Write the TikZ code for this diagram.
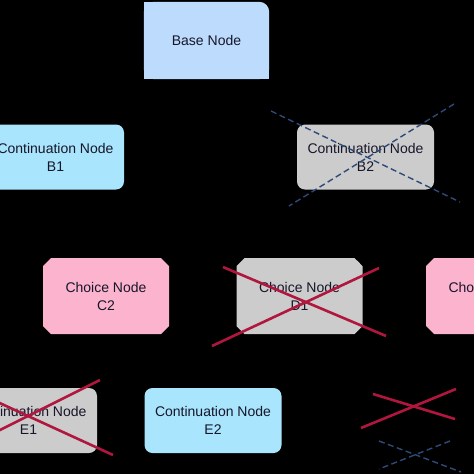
\documentclass[tikz,border=0pt]{standalone}
\usepackage{fontspec}
\setmainfont{Liberation Sans}
\usepackage{xcolor}
\usetikzlibrary{shapes.misc}
\definecolor{baseblue}{HTML}{BDDCFD}
\definecolor{contcyan}{HTML}{A9E5FC}
\definecolor{deadgray}{HTML}{CCCCCC}
\definecolor{choicepink}{HTML}{FCB3CE}
\definecolor{inkcol}{HTML}{16162A}
\definecolor{crossred}{HTML}{B0163E}
\definecolor{crossblue}{HTML}{2E4A78}
\pgfdeclarelayer{bg}
\pgfsetlayers{bg,main}

\begin{document}
\begin{tikzpicture}[x=1pt, y=-1pt,
    nodetext/.style={font=\fontsize{14}{18}\selectfont, text=inkcol, align=center, inner sep=0pt},
    contnode/.style={nodetext, rectangle, rounded corners=8pt, minimum width=137pt, minimum height=65pt},
    choicenode/.style={nodetext, chamfered rectangle, chamfered rectangle xsep=4pt,
        chamfered rectangle ysep=4pt, minimum width=126pt, minimum height=76pt},
    redcross/.style={crossred, line width=2.6pt},
    bluecross/.style={crossblue, line width=1.4pt, dash pattern=on 6pt off 3.5pt}]

\clip (0,0) rectangle (474,474);

% nodes
\node[nodetext, minimum width=125pt, minimum height=77pt] (base) at (206.5,40.5) {Base Node};

\node[contnode, fill=contcyan] (b1) at (55.5,157) {Continuation Node\\B1};
\node[contnode, fill=deadgray] (b2) at (365.5,157) {Continuation Node\\B2};

\node[choicenode, fill=choicepink] (c2) at (106,296) {Choice Node\\C2};
\node[choicenode, fill=deadgray] (d1) at (299.5,296) {Choice Node\\D1};
\node[choicenode, fill=choicepink] (d2) at (489,296) {Choice Node\\D2};

\node[contnode, fill=deadgray] (e1) at (28.5,420.5) {Continuation Node\\E1};
\node[contnode, fill=contcyan] (e2) at (213,420.5) {Continuation Node\\E2};

\begin{pgfonlayer}{bg}
    \fill[black] (0,0) rectangle (474,474);
    \fill[baseblue, rounded corners=10pt] (base.south west) rectangle (base.north east);
    \fill[baseblue] (base.south west) rectangle ([xshift=-12pt]base.north east);
    \fill[baseblue] (base.south west) rectangle ([yshift=-12pt]base.north east);
\end{pgfonlayer}

% crossed out
\foreach \ax/\ay/\bx/\by in {
    223/267/386/336, 379/268/212/346,
    100/380/-20/440, 113/455/-20/394,
    373/394/455/419, 456/389/361/428}
    \draw[redcross] (\ax,\ay) -- (\bx,\by);

\foreach \ax/\ay/\bx/\by in {
    271/111/460/202, 454/104/289/206,
    379/441/461/472, 450/441/379/469}
    \draw[bluecross] (\ax,\ay) -- (\bx,\by);

\end{tikzpicture}
\end{document}
